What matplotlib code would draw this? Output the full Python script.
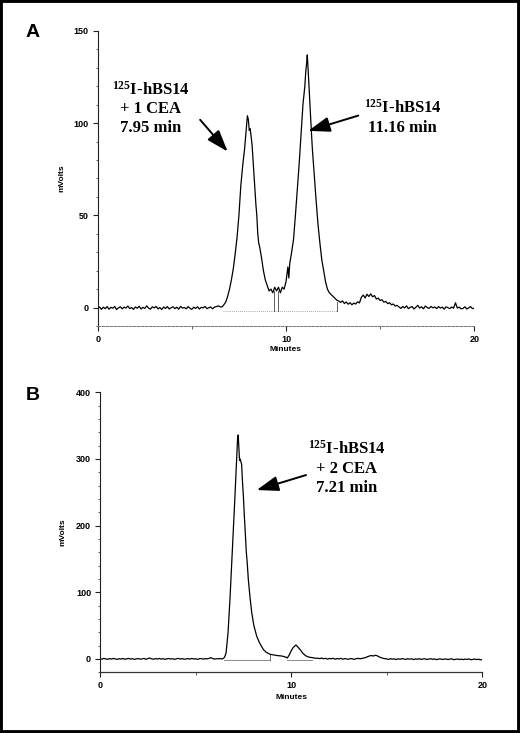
import numpy as np
import matplotlib
matplotlib.use("Agg")
import matplotlib.pyplot as plt
from matplotlib.patches import Rectangle
from matplotlib.ticker import MultipleLocator

plt.rcParams['font.family'] = ['Liberation Sans', 'DejaVu Sans']
plt.rcParams['mathtext.fontset'] = 'custom'
plt.rcParams['mathtext.rm'] = 'Liberation Serif:bold'
plt.rcParams['mathtext.bf'] = 'Liberation Serif:bold'
plt.rcParams['mathtext.it'] = 'Liberation Serif:bold'

# ---------------- Panel A data (Minutes, mVolts) ----------------
a_base1_v = [-0.5, 0.3, -1.0, 0.2, -0.6, 0.5, -0.9, 0.1, -0.4, 0.6,
             -1.1, -0.2, 0.4, -0.7, 0.2, -0.3, 0.8, -0.6, 0.0, -1.0,
             0.3, -0.4, 0.7, -0.8, 0.1, -0.5, 0.9, -0.3, -0.9, 0.4,
             -0.2, 0.6, -0.7, 0.0, -1.1, 0.3, -0.5, 0.5, -0.8, -0.1,
             0.4, -0.6, 0.2, -0.9, 0.6, -0.3, 0.0, -0.7, 0.5, -0.4,
             -1.0, 0.2, -0.5, 0.4, -0.8, 0.1, -0.2, 0.6, -0.6, -0.1,
             0.3, -0.7, 0.2, 0.5, 0.9, 0.4]          # 0.0 .. 6.5 min, step 0.1
a_peak_t = [6.6, 6.7, 6.8, 6.9, 7.0, 7.1, 7.2, 7.3, 7.4, 7.5, 7.6, 7.7, 7.8, 7.9,
            7.95, 8.0, 8.05, 8.1, 8.2, 8.3, 8.4, 8.45, 8.5, 8.55, 8.6, 8.7, 8.8,
            8.9, 9.0, 9.1, 9.2, 9.3, 9.4, 9.5, 9.6, 9.7, 9.8, 9.9, 10.0, 10.05,
            10.1, 10.15, 10.2, 10.3, 10.4, 10.5, 10.6, 10.7, 10.8, 10.9, 11.0,
            11.05, 11.1, 11.13, 11.17, 11.22, 11.27, 11.35, 11.4, 11.5, 11.6,
            11.7, 11.8, 11.9, 12.0, 12.1, 12.2, 12.3, 12.4, 12.5, 12.6, 12.7]
a_peak_v = [0.3, 1.5, 3, 6, 10, 15, 21, 29, 38, 50, 66, 77, 86, 98,
            104, 102, 96, 97, 88, 72, 56, 50, 40, 35, 33, 27, 20,
            15, 12, 9, 10, 8, 11, 9, 11, 8, 11, 10, 14, 18,
            22, 16, 24, 30, 37, 50, 64, 78, 94, 110, 120,
            128, 133, 137, 130, 120, 109, 95, 86, 72, 58,
            45, 35, 26, 20, 14, 10, 8, 7, 6, 5, 4]
a_tail_v = [3.5, 2.8, 3.6, 2.2, 3.0, 1.8, 2.6, 1.5, 2.4, 1.9, 3.1, 2.5,
            5.5, 6.8, 5.2, 7.2, 6.0, 7.4, 5.8, 6.5, 4.6, 5.1,
            3.8, 4.2, 2.9, 3.3, 2.1, 2.6, 1.5, 1.9, 0.8, 1.2,
            0.3, -0.5, 0.6, -0.2, 0.9, -0.6, 0.1, 0.5, -0.8, 0.2,
            1.2, -0.3, 0.4, -0.7, 0.8, 0.0, -0.5, 0.6, -0.2, 0.3,
            -0.6, 0.5, -0.3, 0.2, -0.9, 0.4, -0.1, -0.6, 0.3, -0.4,
            2.6, -0.3, 0.2, -0.7, -0.5, 0.4, -0.8, -0.2, 0.5, -0.6,
            -0.4]                                      # 12.8 .. 20.0 min
a_int_t = [6.68, 12.71]
a_int_level = -1.8
a_drop_t = [9.34, 9.57, 12.71]
a_drop_top = [9, 9, 3]

# ---------------- Panel B data ----------------
b_base1_v = [0.5, -0.3, 0.8, 0.1, -0.5, 0.6, -0.2, 0.9, 0.0, -0.6,
             0.4, -0.1, 0.7, -0.4, 0.3, 0.8, -0.2, 0.5, -0.7, 0.2,
             0.6, -0.3, 0.1, 0.9, -0.5, 0.4, 1.5, 0.2, -0.4, 0.6,
             0.0, 0.8, -0.3, 0.5, -0.6, 0.3, 0.7, -0.1, 0.4, -0.5,
             0.2, 0.9, -0.2, 0.6, -0.4, 0.1, 0.5, -0.3, 0.8, 0.0,
             0.4, -0.6, 0.3, 0.7, -0.2, 0.5, 0.1, 0.9, 2.0, 0.6,
             -0.1, 0.4, 0.2, 0.6]                     # 0.0 .. 6.3 min
b_peak_t = [6.4, 6.5, 6.55, 6.6, 6.65, 6.7, 6.8, 6.9, 7.0, 7.05, 7.1, 7.15, 7.2,
            7.23, 7.27, 7.3, 7.33, 7.37, 7.41, 7.45, 7.5, 7.55, 7.6, 7.65, 7.7,
            7.76, 7.85, 7.94, 8.05, 8.2, 8.35, 8.55, 8.7, 8.9, 9.1, 9.3, 9.5,
            9.7, 9.8, 9.9, 10.0, 10.1, 10.25, 10.35, 10.5, 10.6, 10.75, 10.9,
            11.1, 11.3]
b_peak_v = [0, 2, 5, 10, 25, 40, 90, 148, 205, 238, 270, 305, 332,
            336, 315, 298, 300, 296, 292, 268, 245, 215, 190, 162, 145,
            119, 92, 69, 50, 34, 24, 14, 10, 7, 6, 5, 4.5,
            3, 1.5, 6, 12, 17, 21, 18, 13, 9, 5, 3,
            2, 1]
b_tail_v = [1.2, 0.5, 1.5, 0.3, 1.0, -0.2,
            0.8, 0.2, 1.1, -0.4, 0.6, 0.0, 0.9, -0.3, 0.5, 0.1,
            -0.5, 0.7, 0.2, -0.6, 0.4, 1.0, 0.3, 0.8, 1.5, 2.2,
            3.5, 4.5, 5.2, 4.4, 5.6, 4.8, 3.2, 2.0, 1.1, 0.4,
            0.2, -0.7, 0.5, -0.3, 0.1, -0.8, 0.3, -0.5, 0.6, -0.2,
            -0.6, 0.4, -0.3, 0.2, -0.9, 0.1, -0.4, 0.5, -0.7, 0.0,
            0.3, -0.8, -0.2, 0.4, -0.6, 0.1, -1.0, -0.3, 0.2, -0.7,
            -0.4, 0.1, -0.9, -0.2, 0.3, -1.1, -0.5, 0.0, -0.8, -0.3,
            -1.0, -0.2, -0.7, 0.1, -1.2, -0.6, -0.1, -0.9, -0.4, -1.3,
            -0.8]                                      # 11.4 .. 20.0 min
b_int_segments = [(6.47, 8.88), (9.8, 11.1)]
b_int_level = -1.2
b_drop_t = [8.88]
b_drop_top = [7]

a_yticks = [0, 50, 100, 150]
b_yticks = [0, 100, 200, 300, 400]
x_ticks = [0, 10, 20]


def series(base_v, base_start, peak_t, peak_v, tail_v, tail_start):
    t1 = base_start + 0.1 * np.arange(len(base_v))
    t3 = tail_start + 0.1 * np.arange(len(tail_v))
    t = np.concatenate([t1, np.array(peak_t), t3])
    v = np.concatenate([np.array(base_v), np.array(peak_v), np.array(tail_v)])
    return t, v


a_t, a_v = series(a_base1_v, 0.0, a_peak_t, a_peak_v, a_tail_v, 12.8)
b_t, b_v = series(b_base1_v, 0.0, b_peak_t, b_peak_v, b_tail_v, 11.4)

fig = plt.figure(figsize=(5.2, 7.33), dpi=100)
fig.patches.append(Rectangle((0, 0), 1, 1, transform=fig.transFigure,
                             fill=False, edgecolor='black', linewidth=4.2))

axA = fig.add_axes([0.1879, 0.5553, 0.7242, 0.4025])
axB = fig.add_axes([0.1923, 0.0828, 0.7352, 0.3820])

lab_font = dict(fontsize=6, fontweight='bold', family=['Liberation Sans', 'DejaVu Sans'])


def style(ax, ylim, yticks, ymin_step, dashed):
    ax.set_xlim(0, 20)
    ax.set_ylim(*ylim)
    for s in ['top', 'right']:
        ax.spines[s].set_visible(False)
    ax.spines['left'].set_linewidth(0.8)
    ax.spines['left'].set_color('#222222')
    if dashed:
        ax.spines['bottom'].set_linewidth(0.7)
        ax.spines['bottom'].set_color('#777777')
        ax.spines['bottom'].set_linestyle((0, (2.5, 1.5)))
    else:
        ax.spines['bottom'].set_linewidth(0.9)
        ax.spines['bottom'].set_color('#333333')
    ax.set_xticks(x_ticks)
    ax.set_yticks(yticks)
    ax.xaxis.set_minor_locator(MultipleLocator(5))
    ax.yaxis.set_minor_locator(MultipleLocator(ymin_step))
    ax.tick_params(axis='both', which='major', direction='out', length=3.4,
                   width=0.8, color='#222222', pad=3.0, labelsize=6.5)
    ax.tick_params(axis='both', which='minor', direction='out', length=1.8,
                   width=0.6, color='#444444')
    for lbl in ax.get_xticklabels() + ax.get_yticklabels():
        lbl.set_fontweight('bold')
    ax.set_xlabel('Minutes', **lab_font)
    ax.set_ylabel('mVolts', **lab_font)
    ax.patch.set_alpha(0)


style(axA, (-10, 150), a_yticks, 10, True)
style(axB, (-20, 400), b_yticks, 20, False)
axA.xaxis.set_label_coords(0.5, -0.068)
axA.yaxis.set_label_coords(-0.087, 0.5)
axB.xaxis.set_label_coords(0.5, -0.078)
axB.yaxis.set_label_coords(-0.087, 0.5)

# integration marks
axA.plot(a_int_t, [a_int_level] * 2, color='#888888', lw=0.6, ls=(0, (1, 1.5)))
for t, top in zip(a_drop_t, a_drop_top):
    axA.plot([t, t], [a_int_level, top], color='#444444', lw=0.6)
for seg in b_int_segments:
    axB.plot(seg, [b_int_level] * 2, color='#777777', lw=0.6)
for t, top in zip(b_drop_t, b_drop_top):
    axB.plot([t, t], [b_int_level, top], color='#555555', lw=0.6)

axA.plot(a_t, a_v, color='black', lw=0.9)
axB.plot(b_t, b_v, color='black', lw=0.9)

txt = dict(fontsize=12, fontweight='bold', family=['Liberation Serif', 'DejaVu Serif'],
           ha='center', va='center', linespacing=1.25)
arrow = dict(arrowstyle='-|>,head_length=0.95,head_width=0.33', lw=1.4,
             color='black', shrinkA=0, shrinkB=0, mutation_scale=14)

axA.text(2.82, 108, '$^{125}$I-hBS14\n+ 1 CEA\n7.95 min', **txt)
axA.annotate('', xy=(6.90, 84.6), xytext=(5.44, 101.8), arrowprops=arrow)
axA.text(16.2, 103, '$^{125}$I-hBS14\n11.16 min', **txt)
axA.annotate('', xy=(11.18, 95.8), xytext=(13.84, 104.1), arrowprops=arrow)

axB.text(12.9, 287, '$^{125}$I-hBS14\n+ 2 CEA\n7.21 min', **txt)
axB.annotate('', xy=(8.2, 253.4), xytext=(10.78, 275.9), arrowprops=arrow)

fig.text(0.0635, 0.955, 'A', fontsize=14, fontweight='bold', ha='center', va='center')
fig.text(0.0635, 0.461, 'B', fontsize=14, fontweight='bold', ha='center', va='center')

fig.savefig('out.png', dpi=100)
